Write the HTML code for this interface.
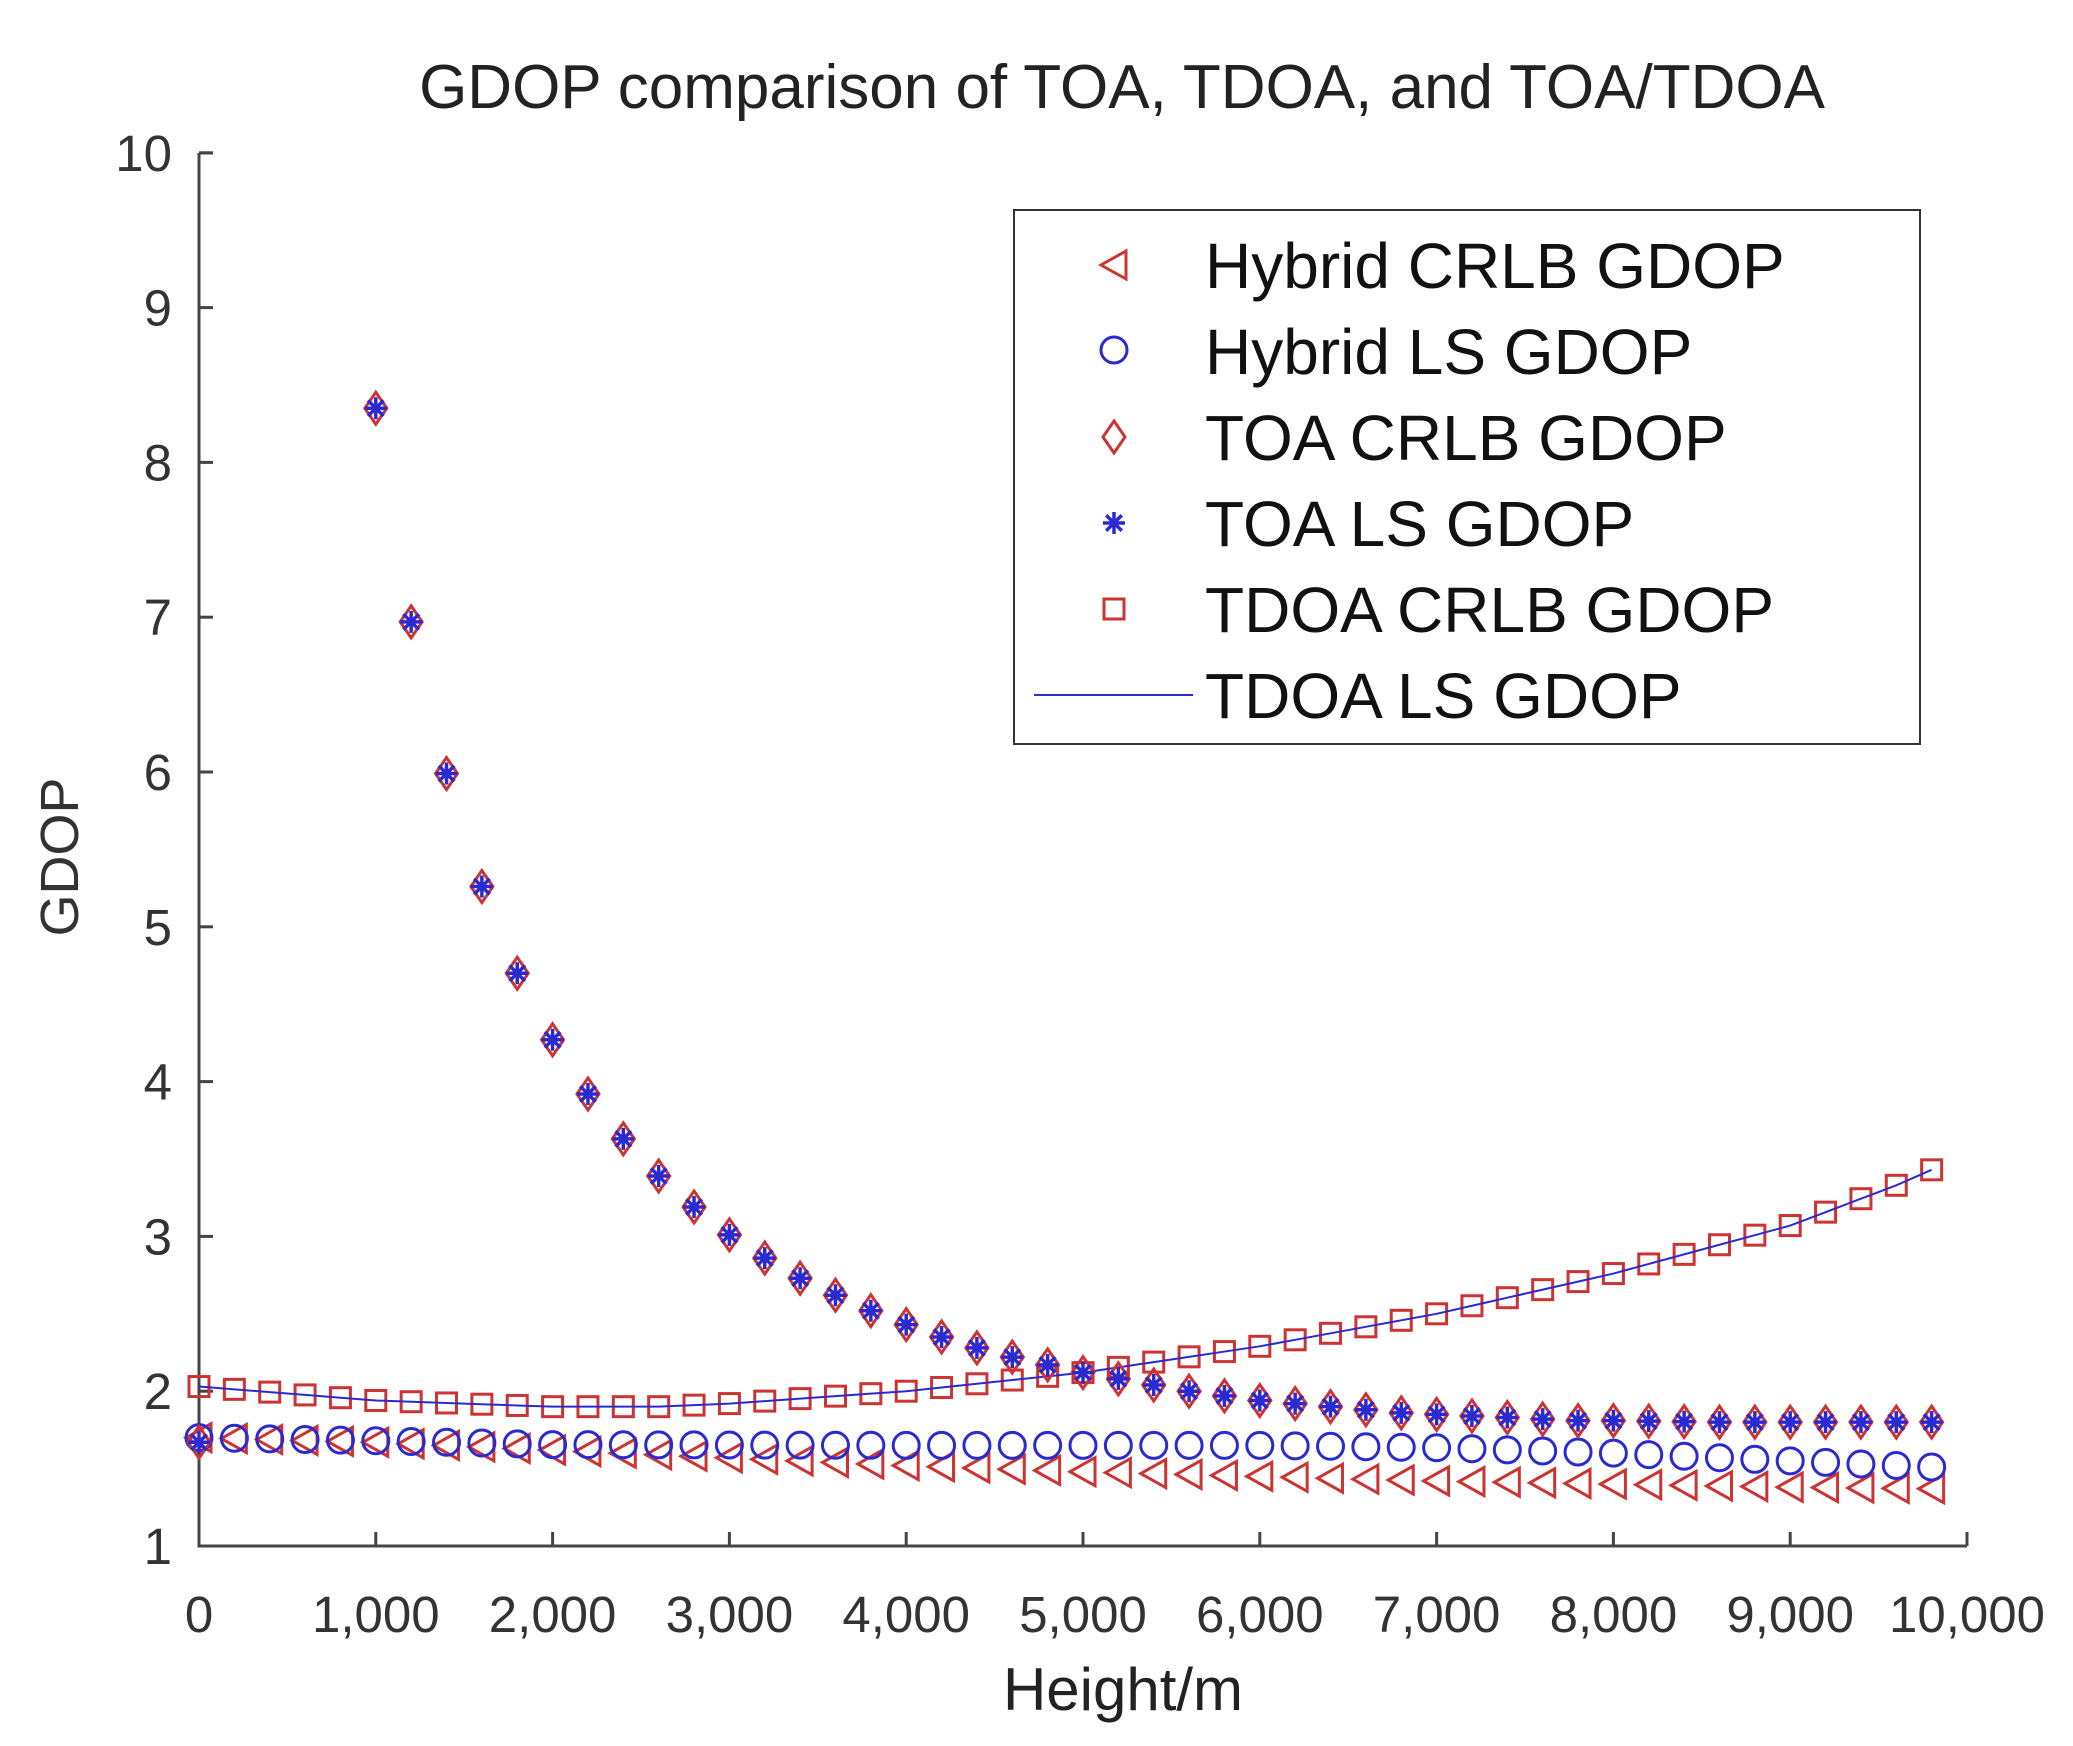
<!DOCTYPE html>
<html><head><meta charset="utf-8"><style>
html,body{margin:0;padding:0;background:#fff;}
svg{display:block;font-family:"Liberation Sans",sans-serif;}
</style></head><body>
<svg id="s" width="2073" height="1746" viewBox="0 0 2073 1746" xmlns="http://www.w3.org/2000/svg">
<rect width="2073" height="1746" fill="#fff"/>
<text x="1122" y="108" font-size="62" text-anchor="middle" fill="#222">GDOP comparison of TOA, TDOA, and TOA/TDOA</text>
<g stroke="#444" stroke-width="3" fill="none">
<path d="M199 153 V1546 H1967"/>
<path d="M199 153 H213"/>
<path d="M1967 1546 V1532"/>
</g>
<g id="ticks" stroke="#444" stroke-width="3"></g>
<g id="lbl" font-size="51" fill="#333"></g>
<text x="1123" y="1710" font-size="60" text-anchor="middle" fill="#222">Height/m</text>
<text transform="translate(78,857) rotate(-90)" font-size="54" text-anchor="middle" fill="#333">GDOP</text>
<g id="data"></g>
<rect x="1014" y="210" width="906" height="534" fill="#fff" stroke="#333" stroke-width="2"/>
<g font-size="64" fill="#111">
<text x="1205" y="288">Hybrid CRLB GDOP</text>
<text x="1205" y="374">Hybrid LS GDOP</text>
<text x="1205" y="460">TOA CRLB GDOP</text>
<text x="1205" y="546">TOA LS GDOP</text>
<text x="1205" y="632">TDOA CRLB GDOP</text>
<text x="1205" y="718">TDOA LS GDOP</text>
</g>
<g id="leg"></g>
</svg>
<script>
var NS="http://www.w3.org/2000/svg";
function el(p,t,a){var e=document.createElementNS(NS,t);for(var k in a)e.setAttribute(k,a[k]);p.appendChild(e);return e;}
var X=function(h){return 199+h*0.1768;}, Y=function(v){return 1546-(v-1)*154.8;};
var tk=document.getElementById('ticks'),lb=document.getElementById('lbl');
for(var i=1;i<=10;i++){var y=Y(i);el(tk,'path',{d:'M199 '+y+' H213'});var t=el(lb,'text',{x:172,y:y+18,'text-anchor':'end'});t.textContent=i;}
var xl=['0','1,000','2,000','3,000','4,000','5,000','6,000','7,000','8,000','9,000','10,000'];
for(var i=0;i<=10;i++){var x=X(i*1000);if(i>0&&i<10)el(tk,'path',{d:'M'+x+' 1546 V1532'});var t=el(lb,'text',{x:x,y:1632,'text-anchor':'middle'});t.textContent=xl[i];}
function interp(tab,h){for(var i=0;i<tab.length-1;i++){if(h>=tab[i][0]&&h<=tab[i+1][0]){var f=(h-tab[i][0])/(tab[i+1][0]-tab[i][0]);return tab[i][1]+f*(tab[i+1][1]-tab[i][1]);}}return tab[tab.length-1][1];}
var toa=[[1,8.35],[1.2,6.97],[1.4,5.99],[1.6,5.26],[1.8,4.70],[2,4.27],[2.2,3.92],[2.4,3.63],[2.6,3.39],[2.8,3.19],[3,3.01],[3.2,2.86],[3.4,2.73],[3.6,2.62],[3.8,2.52],[4,2.43],[4.2,2.35],[4.4,2.28],[4.6,2.22],[4.8,2.17],[5,2.12],[5.2,2.08],[5.4,2.04],[5.6,2.00],[5.8,1.97],[6,1.94],[6.2,1.92],[6.4,1.90],[6.6,1.88],[6.8,1.86],[7,1.85],[7.2,1.84],[7.4,1.83],[7.6,1.82],[7.8,1.81],[8,1.81],[8.6,1.80],[9.8,1.80]];
var tdoa=[[0,2.03],[1,1.94],[2,1.90],[2.6,1.90],[3,1.92],[4,2.00],[5,2.12],[6,2.29],[7,2.50],[8,2.76],[9,3.07],[9.6,3.33],[9.8,3.43]];
var hls=[[0,1.70],[1,1.68],[2,1.655],[4,1.65],[6,1.65],[7,1.635],[8,1.60],[9,1.55],[9.8,1.51]];
var hcr=[[0,1.70],[1,1.67],[2,1.62],[3,1.57],[4,1.52],[5,1.48],[6,1.45],[7,1.42],[8,1.40],[9,1.38],[9.8,1.37]];
var R='#cc3333',B='#2a2ad0',g=document.getElementById('data');
function tri(p,x,y,c){el(p,'path',{d:'M'+(x-13)+' '+y+' L'+(x+12)+' '+(y-14)+' L'+(x+12)+' '+(y+14)+'Z',fill:'none',stroke:c,'stroke-width':3});}
function circ(p,x,y,c){el(p,'circle',{cx:x,cy:y,r:13,fill:'none',stroke:c,'stroke-width':3});}
function dia(p,x,y,c){el(p,'path',{d:'M'+x+' '+(y-16)+' L'+(x+11)+' '+y+' L'+x+' '+(y+16)+' L'+(x-11)+' '+y+'Z',fill:'none',stroke:c,'stroke-width':3});}
function star(p,x,y,c){var d='';for(var a=0;a<4;a++){var an=a*Math.PI/4,dx=11*Math.cos(an),dy=11*Math.sin(an);d+='M'+(x-dx)+' '+(y-dy)+' L'+(x+dx)+' '+(y+dy)+' ';}el(p,'path',{d:d,stroke:c,'stroke-width':3.5});}
function sq(p,x,y,c){el(p,'rect',{x:x-10,y:y-10,width:20,height:20,fill:'none',stroke:c,'stroke-width':3});}
var pts=[];for(var h=0;h<=9800;h+=200){pts.push(h);}
var d='';pts.forEach(function(h,i){d+=(i?'L':'M')+X(h)+' '+Y(interp(tdoa,h/1000))+' ';});
pts.forEach(function(h){sq(g,X(h),Y(interp(tdoa,h/1000)),R);});
el(g,'path',{d:d,fill:'none',stroke:B,'stroke-width':2});
pts.forEach(function(h){tri(g,X(h),Y(interp(hcr,h/1000)),R);});
pts.forEach(function(h){circ(g,X(h),Y(interp(hls,h/1000)),B);});
pts.forEach(function(h){var v=h===0?1.67:(h<1000?null:interp(toa,h/1000));if(v===null)return;dia(g,X(h),Y(v),R);star(g,X(h),Y(v),B);});
var lg=document.getElementById('leg');
tri(lg,1114,265,R);circ(lg,1114,350,B);dia(lg,1114,437,R);star(lg,1114,523,B);sq(lg,1114,609,R);
el(lg,'path',{d:'M1034 695 H1193',stroke:B,'stroke-width':2});
</script>
</body></html>
